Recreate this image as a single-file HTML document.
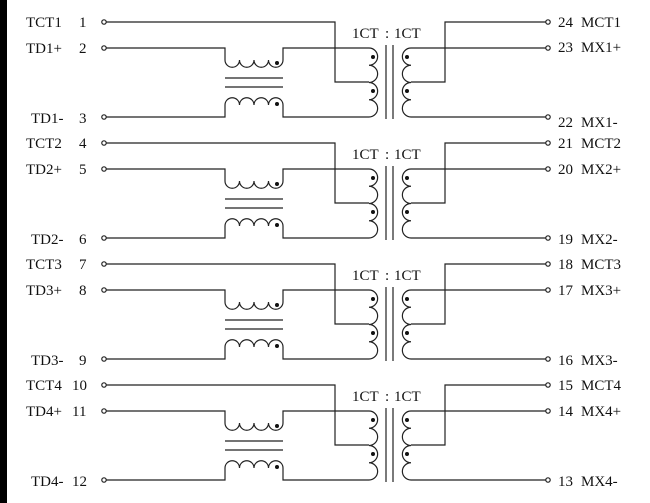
<!DOCTYPE html>
<html><head><meta charset="utf-8"><style>
html,body{margin:0;padding:0;background:#fff}
svg{display:block}
text{font-family:"Liberation Serif",serif;font-size:15px;fill:#111}
</style></head><body>
<svg width="650" height="503" viewBox="0 0 650 503" xmlns="http://www.w3.org/2000/svg">
<rect x="0" y="0" width="650" height="503" fill="#fff"/>
<rect x="0" y="0" width="7" height="503" fill="#000"/>
<defs>
<g id="blk" fill="none" stroke="#222" stroke-width="1.2">
  <path d="M106 22H335V82H369"/>
  <path d="M106 48H225V60a7.25 7.25 0 0 0 14.5 0a7.25 7.25 0 0 0 14.5 0a7.25 7.25 0 0 0 14.5 0a7.25 7.25 0 0 0 14.5 0V48H369"/>
  <path d="M106 117H225V105a7.25 7.25 0 0 1 14.5 0a7.25 7.25 0 0 1 14.5 0a7.25 7.25 0 0 1 14.5 0a7.25 7.25 0 0 1 14.5 0V117H369"/>
  <path d="M225 78H283M225 87H283"/>
  <path d="M369 48a8.6 8.6 0 0 1 0 17.25a8.6 8.6 0 0 1 0 17.25a8.6 8.6 0 0 1 0 17.25a8.6 8.6 0 0 1 0 17.25"/>
  <path d="M411 48a8.6 8.6 0 0 0 0 17.25a8.6 8.6 0 0 0 0 17.25a8.6 8.6 0 0 0 0 17.25a8.6 8.6 0 0 0 0 17.25"/>
  <path d="M386 45V119M393 45V119"/>
  <path d="M411 48H546M411 117H546M411 82H445V22H546"/>
  <circle cx="104" cy="22" r="2.2" fill="#fff"/>
  <circle cx="104" cy="48" r="2.2" fill="#fff"/>
  <circle cx="104" cy="117" r="2.2" fill="#fff"/>
  <circle cx="548" cy="22" r="2.2" fill="#fff"/>
  <circle cx="548" cy="48" r="2.2" fill="#fff"/>
  <circle cx="548" cy="117" r="2.2" fill="#fff"/>
  <g fill="#111" stroke="none">
    <circle cx="277" cy="63" r="2"/>
    <circle cx="277" cy="104" r="2"/>
    <circle cx="373" cy="57" r="2"/>
    <circle cx="373" cy="91" r="2"/>
    <circle cx="407" cy="57" r="2"/>
    <circle cx="407" cy="91" r="2"/>
  </g>
</g>
</defs>
<use href="#blk" y="0"/>
<use href="#blk" y="121"/>
<use href="#blk" y="242"/>
<use href="#blk" y="363"/>

<g>
<text x="26" y="27">TCT1</text><text x="79" y="27">1</text>
<text x="26" y="53">TD1+</text><text x="79" y="53">2</text>
<text x="31" y="123">TD1-</text><text x="79" y="123">3</text>
<text x="352" y="38">1CT</text><text x="385" y="38">:</text><text x="394" y="38">1CT</text>
<text x="558" y="27">24</text><text x="581" y="27">MCT1</text>
<text x="558" y="52">23</text><text x="581" y="52">MX1+</text>
<text x="558" y="127">22</text><text x="581" y="127">MX1-</text>

<text x="26" y="148">TCT2</text><text x="79" y="148">4</text>
<text x="26" y="174">TD2+</text><text x="79" y="174">5</text>
<text x="31" y="244">TD2-</text><text x="79" y="244">6</text>
<text x="352" y="159">1CT</text><text x="385" y="159">:</text><text x="394" y="159">1CT</text>
<text x="558" y="148">21</text><text x="581" y="148">MCT2</text>
<text x="558" y="174">20</text><text x="581" y="174">MX2+</text>
<text x="558" y="244">19</text><text x="581" y="244">MX2-</text>

<text x="26" y="269">TCT3</text><text x="79" y="269">7</text>
<text x="26" y="295">TD3+</text><text x="79" y="295">8</text>
<text x="31" y="365">TD3-</text><text x="79" y="365">9</text>
<text x="352" y="280">1CT</text><text x="385" y="280">:</text><text x="394" y="280">1CT</text>
<text x="558" y="269">18</text><text x="581" y="269">MCT3</text>
<text x="558" y="295">17</text><text x="581" y="295">MX3+</text>
<text x="558" y="365">16</text><text x="581" y="365">MX3-</text>

<text x="26" y="390">TCT4</text><text x="72" y="390">10</text>
<text x="26" y="416">TD4+</text><text x="72" y="416">11</text>
<text x="31" y="486">TD4-</text><text x="72" y="486">12</text>
<text x="352" y="401">1CT</text><text x="385" y="401">:</text><text x="394" y="401">1CT</text>
<text x="558" y="390">15</text><text x="581" y="390">MCT4</text>
<text x="558" y="416">14</text><text x="581" y="416">MX4+</text>
<text x="558" y="486">13</text><text x="581" y="486">MX4-</text>
</g>
</svg>
</body></html>
